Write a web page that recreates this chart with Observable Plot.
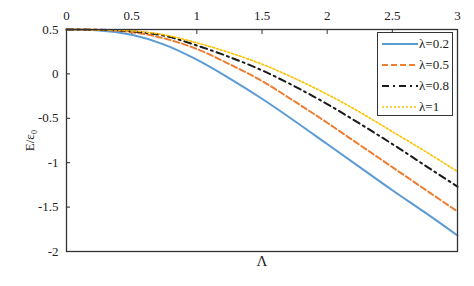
<!DOCTYPE html>
<html>
<head>
<meta charset="utf-8">
<script src="https://cdn.jsdelivr.net/npm/d3@7"></script>
<script src="https://cdn.jsdelivr.net/npm/@observablehq/plot@0.6"></script>
<style>
  body { margin: 0; background: #fff; }
  #wrap { position: relative; width: 474px; height: 286px; font-family: 'Liberation Serif', 'DejaVu Serif', serif; }
  #wrap svg text { font-family: 'Liberation Serif', 'DejaVu Serif', serif; }
  #legend { position: absolute; left: 377px; top: 32px; width: 76px; height: 84px; border: 1px solid #333; background: #fff; box-sizing: border-box; }
  .item { position: absolute; left: 0; height: 16px; display: flex; align-items: center; font-size: 13px; color: #222; font-family: 'Liberation Serif', 'DejaVu Serif', serif; }
  .item svg { margin-left: 4px; margin-right: 1px; }
</style>
</head>
<body>
<div id="wrap"></div>
<script>
const seriesNames = ["λ=0.2", "λ=0.5", "λ=0.8", "λ=1"];
const Lambda = [0, 0.25, 0.5, 0.75, 1.0, 1.25, 1.5, 1.75, 2.0, 2.25, 2.5, 2.75, 3.0];
const E_02 = [0.5, 0.49, 0.44, 0.33, 0.16, -0.05, -0.28, -0.53, -0.79, -1.05, -1.31, -1.56, -1.82];
const E_05 = [0.5, 0.495, 0.47, 0.40, 0.28, 0.11, -0.08, -0.31, -0.55, -0.80, -1.05, -1.30, -1.55];
const E_08 = [0.5, 0.497, 0.48, 0.43, 0.32, 0.19, 0.04, -0.14, -0.34, -0.56, -0.79, -1.03, -1.27];
const E_10 = [0.5, 0.498, 0.485, 0.44, 0.35, 0.24, 0.11, -0.05, -0.23, -0.43, -0.65, -0.87, -1.10];
const xTicks = [0, 0.5, 1, 1.5, 2, 2.5, 3];
const yTicks = [0.5, 0, -0.5, -1, -1.5, -2];

const styles = [
  {stroke: "#5B9BD5", strokeWidth: 2, strokeDasharray: null},
  {stroke: "#ED7D31", strokeWidth: 2, strokeDasharray: "6,3"},
  {stroke: "#1a1a1a", strokeWidth: 2, strokeDasharray: "7,4,2,4"},
  {stroke: "#FFC000", strokeWidth: 1.6, strokeDasharray: "2,2"}
];
const allE = [E_02, E_05, E_08, E_10];
const tables = allE.map((arr, i) => Lambda.map((x, j) => ({x, y: arr[j], s: seriesNames[i]})));

const plot = Plot.plot({
  width: 474,
  height: 286,
  marginLeft: 66,
  marginRight: 17,
  marginTop: 29,
  marginBottom: 35,
  style: "font-family: 'Liberation Serif', 'DejaVu Serif', serif; font-size: 13px; color: #222; background: #fff;",
  x: {domain: [0, 3]},
  y: {domain: [-2, 0.5]},
  marks: [
    Plot.axisX({anchor: "top", ticks: xTicks, tickSize: -4, tickPadding: 14, tickFormat: d => String(d), label: null, stroke: "#333", fontSize: 13}),
    Plot.axisX({anchor: "bottom", ticks: [], label: "Λ", labelAnchor: "center", labelArrow: "none", labelOffset: 14, fontSize: 15}),
    Plot.axisY({anchor: "left", ticks: yTicks, tickSize: -4, tickPadding: 12, tickFormat: d => String(d), label: "E/ε₀", labelAnchor: "center", labelArrow: "none", labelOffset: 42, fontSize: 13}),
    ...tables.map((t, i) => Plot.line(t, {x: "x", y: "y", curve: "monotone-x", ...styles[i]})),
    Plot.frame({stroke: "#333", strokeWidth: 1.3})
  ]
});
document.getElementById("wrap").appendChild(plot);

// legend
const legend = document.createElement("div");
legend.id = "legend";
seriesNames.forEach((name, i) => {
  const item = document.createElement("div");
  item.className = "item";
  item.style.top = (3 + i * 21) + "px";
  const st = styles[i];
  item.innerHTML = `<svg width="36" height="6"><line x1="0" y1="3" x2="36" y2="3" stroke="${st.stroke}" stroke-width="${st.strokeWidth}" ${st.strokeDasharray ? `stroke-dasharray="${st.strokeDasharray}"` : ""}/></svg><span>${name}</span>`;
  legend.appendChild(item);
});
document.getElementById("wrap").appendChild(legend);
</script>
</body>
</html>
